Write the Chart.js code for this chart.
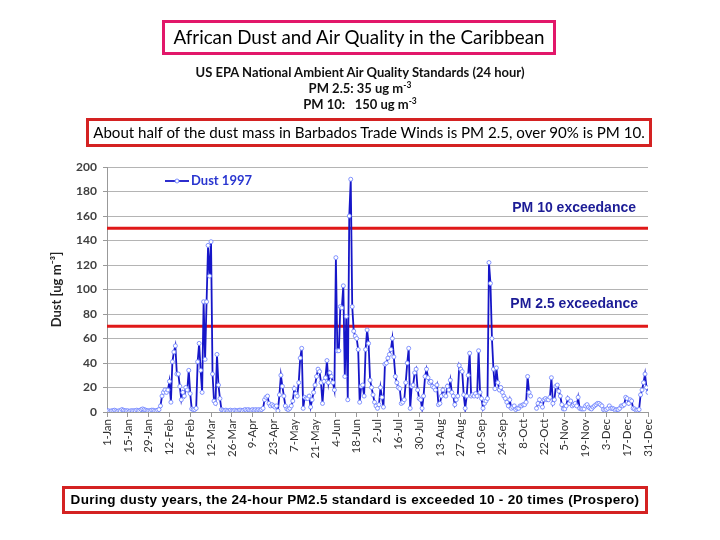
<!DOCTYPE html>
<html>
<head>
<meta charset="utf-8">
<script src="https://cdn.jsdelivr.net/npm/chart.js@4.4.0/dist/chart.umd.min.js"></script>
<style>
  body { margin: 0; background: #fff; }
  #wrap { position: relative; width: 720px; height: 540px; overflow: hidden; }
  canvas { position: absolute; left: 0; top: 0; }
  .box { position: absolute; box-sizing: border-box; text-align: center; white-space: nowrap; }
  #title { left: 162px; top: 20px; width: 394px; height: 35px; border: 3px solid #e2176a;
           font: 18.8px Lato, sans-serif; line-height: 28px; color: #000; }
  #sub { left: 140px; top: 64px; width: 440px; font: bold 13px Lato, sans-serif; line-height: 16px; color: #111; }
  #sub sup { font-size: 8.5px; line-height: 0; }
  #note { left: 86px; top: 118px; width: 566px; height: 29px; border: 3px solid #d42222;
          font: 15.1px Lato, sans-serif; line-height: 23px; color: #000; }
  #foot { left: 62px; top: 486px; width: 586px; height: 28px; border: 3px solid #d42222;
          font: bold 13.5px "Liberation Sans", Arial, sans-serif; letter-spacing: 0.3px;
          line-height: 22px; color: #000; }
</style>
</head>
<body>
<div id="wrap">
  <canvas id="dustChart" width="720" height="540"></canvas>
  <div class="box" id="title">African Dust and Air Quality in the Caribbean</div>
  <div class="box" id="sub">US EPA National Ambient Air Quality Standards (24 hour)<br>PM 2.5: 35 ug m<sup>-3</sup><br>PM 10:&nbsp;&nbsp; 150 ug m<sup>-3</sup></div>
  <div class="box" id="note">About half of the dust mass in Barbados Trade Winds is PM 2.5, over 90% is PM 10.</div>
  <div class="box" id="foot">During dusty years, the 24-hour PM2.5 standard is exceeded 10 - 20 times (Prospero)</div>
</div>
<script>
// tick labels, one every 14 days starting 1-Jan
var tickLabels = ['1-Jan','15-Jan','29-Jan','12-Feb','26-Feb','12-Mar','26-Mar','9-Apr','23-Apr',
  '7-May','21-May','4-Jun','18-Jun','2-Jul','16-Jul','30-Jul','13-Aug','27-Aug','10-Sep',
  '24-Sep','8-Oct','22-Oct','5-Nov','19-Nov','3-Dec','17-Dec','31-Dec']

// daily dust 1997 (ug m-3)
var jan = [1,1,0.5,1,1,1.5,1,0.5,1,1,2,1.5,1,1,1,0.5,1,1,1,1,1.5,1,1,2,2.5,2,1.5,1,1,1,1.5]
var feb = [1.5,1,1,1.5,2,5,13,16,18,16,18,25,8,41,49,54,31,31,21,10,16,13,20,18,34,15,2.5,2]
var mar = [2,3,41,56,34,16,90,43,90,136,111,139,31,9,7,47,22,11,2,1.5,1,1.5,1,1,1.5,1,1,1.5,1,1,1.5]
var apr = [1.5,1,1.5,2,1.5,2,1.5,1.5,2,1.5,2,1.5,2,1.5,2,3,10,12,13,7,5,6,5,4,5,1,14,30,21,13]
var may = [5,2.5,2,3,5,9,19,15,13,24,44,52,3,12,11,11,13,4,10,16,22,29,35,33,24,7,25,28,42,24,32]
var jun = [29,24,18,126,50,50,86,85,103,29,78,10,160,190,86,66,62,60,51,8,21,22,13,51,67,56,26,20,14,8]
var jul = [5,3,6,20,12,4,39,40,44,47,51,60,45,29,24,20,19,7,8,10,24,40,52,3,21,22,32,35,18,11,10]
var aug = [3,13,29,35,28,24,25,21,20,18,22,6,7,13,18,14,13,21,18,26,16,13,6,10,13,38,35,33,14,3,13]
var sep = [30,48,13,14,13,15,13,50,16,11,3,7,9,11,122,105,60,35,19,36,24,18,20,16,13,11,8,5,10,3]
var oct = [4,5,2,3,3,5,5,6,6,8,29,16,13,null,null,null,3,7,10,6,4,10,11,10,10,12,28,7,10,21,22]
var nov = [17,13,6,2.5,2.5,5,11,7,9,5,6,7,5,12,3,2.5,2.5,2.5,5,6,4,3,2.5,4,5,6,7,7,6,5]
var dec = [2,1.5,2,3,5,3,3,2.5,1.5,2,2,3,5,5,6,12,11,7,10,9,3,2.5,1.5,1.5,2,14,18,24,31,20,16]

var dust = [].concat(jan, feb, mar, apr, may, jun, jul, aug, sep, oct, nov, dec)
var pm10Line = 150
var pm25Line = 70

var pts = dust.map(function (v, i) { return { x: i, y: v } })
var lastDay = dust.length - 1

var blue = '#1616c8'

var overlay = {
  id: 'overlay',
  afterDatasetsDraw: function (chart) {
    var ctx = chart.ctx, a = chart.chartArea, ys = chart.scales.y
    ctx.save()
    // legend inside plot
    var ly = a.top + 14
    ctx.strokeStyle = blue
    ctx.lineWidth = 1.8
    ctx.beginPath(); ctx.moveTo(a.left + 58, ly); ctx.lineTo(a.left + 82, ly); ctx.stroke()
    ctx.fillStyle = '#fff'
    ctx.strokeStyle = 'rgba(110,130,255,0.9)'
    ctx.lineWidth = 1
    ctx.beginPath(); ctx.arc(a.left + 70, ly, 2, 0, Math.PI * 2); ctx.fill(); ctx.stroke()
    ctx.fillStyle = '#2a36d0'
    ctx.font = 'bold 13px Lato, sans-serif'
    ctx.textBaseline = 'middle'
    ctx.textAlign = 'left'
    ctx.fillText('Dust 1997', a.left + 84, ly)
    // exceedance labels
    ctx.fillStyle = '#1c1c96'
    ctx.font = 'bold 14px "Liberation Sans", Arial, sans-serif'
    ctx.textAlign = 'right'
    ctx.fillText('PM 10 exceedance', a.right - 12, ys.getPixelForValue(pm10Line) - 20)
    ctx.fillText('PM 2.5 exceedance', a.right - 10, ys.getPixelForValue(pm25Line) - 22)
    ctx.restore()
  }
}

new Chart(document.getElementById('dustChart'), {
  type: 'line',
  data: {
    datasets: [
      {
        label: 'Dust 1997',
        data: pts,
        borderColor: blue,
        borderWidth: 1.8,
        pointRadius: 2,
        pointBorderWidth: 1,
        pointBorderColor: 'rgba(110,130,255,0.85)',
        pointBackgroundColor: '#fff',
        tension: 0
      },
      {
        data: [{ x: 0, y: pm10Line }, { x: lastDay, y: pm10Line }],
        borderColor: '#e01818', borderWidth: 3, pointRadius: 0
      },
      {
        data: [{ x: 0, y: pm25Line }, { x: lastDay, y: pm25Line }],
        borderColor: '#e01818', borderWidth: 3, pointRadius: 0
      }
    ]
  },
  options: {
    responsive: false,
    animation: false,
    devicePixelRatio: 1,
    layout: { padding: { left: 45, top: 167, right: 72, bottom: 78 } },
    plugins: { legend: { display: false }, tooltip: { enabled: false } },
    scales: {
      x: {
        type: 'linear', min: 0, max: lastDay,
        afterFit: function (s) { s.height = 50 },
        grid: { drawOnChartArea: false, tickLength: 5, color: '#999' },
        border: { color: '#999' },
        ticks: {
          stepSize: 14, autoSkip: false, minRotation: 90, maxRotation: 90,
          color: '#333', font: { family: 'Lato', size: 11.5 }, padding: 2,
          callback: function (v) { return tickLabels[Math.round(v / 14)] }
        }
      },
      y: {
        min: 0, max: 200,
        afterFit: function (s) { s.width = 62 },
        grid: {
          color: function (c) { return c.tick && c.tick.value % 20 === 0 ? '#b4b4b4' : 'rgba(0,0,0,0)' },
          tickColor: '#999', tickLength: 4
        },
        border: { color: '#999' },
        ticks: {
          stepSize: 10, padding: 6, color: '#404040',
          font: { family: 'Lato', size: 12, weight: 'bold' },
          callback: function (v) { return v % 20 === 0 ? v : '' }
        },
        title: {
          display: true, text: 'Dust [ug m\u207B\u00B3]', color: '#222',
          font: { family: 'Lato', size: 13, weight: 'bold' }
        }
      }
    }
  },
  plugins: [overlay]
})
</script>
</body>
</html>
